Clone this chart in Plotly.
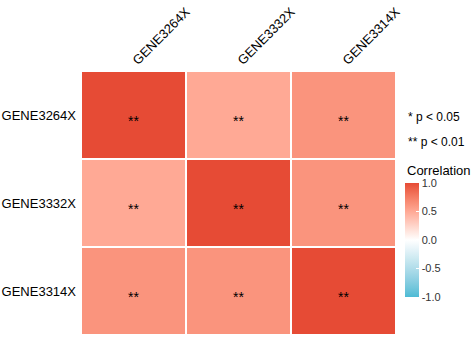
import plotly.graph_objects as go
import numpy as np

genes = ["GENE3264X", "GENE3332X", "GENE3314X"]
corr = [
    [1.00, 0.50, 0.62],
    [0.50, 1.00, 0.62],
    [0.62, 0.62, 1.00],
]
signif = [
    ["**", "**", "**"],
    ["**", "**", "**"],
    ["**", "**", "**"],
]
legend_notes = ["* p < 0.05", "** p < 0.01"]
cbar_title = "Correlation"
cbar_ticks = [-1.0, -0.5, 0.0, 0.5, 1.0]


def hex2rgb(h):
    h = h.lstrip("#")
    return [int(h[i:i + 2], 16) / 255 for i in (0, 2, 4)]


def srgb2lin(c):
    return np.where(c <= 0.04045, c / 12.92, ((c + 0.055) / 1.055) ** 2.4)


def lin2srgb(c):
    return np.where(c <= 0.0031308, 12.92 * c, 1.055 * np.power(np.clip(c, 0, None), 1 / 2.4) - 0.055)


M = np.array([[0.4124, 0.3576, 0.1805], [0.2126, 0.7152, 0.0722], [0.0193, 0.1192, 0.9505]])
Mi = np.linalg.inv(M)
wp = np.array([0.95047, 1.0, 1.08883])


def f(t):
    d = 6 / 29
    return np.where(t > d ** 3, np.cbrt(t), t / (3 * d * d) + 4 / 29)


def finv(t):
    d = 6 / 29
    return np.where(t > d, t ** 3, 3 * d * d * (t - 4 / 29))


def rgb2lab(rgb):
    xyz = M @ srgb2lin(np.array(rgb)) / wp
    fx, fy, fz = f(xyz)
    return np.array([116 * fy - 16, 500 * (fx - fy), 200 * (fy - fz)])


def lab2rgb(lab):
    L, a, b = lab
    fy = (L + 16) / 116
    fx = fy + a / 500
    fz = fy - b / 200
    xyz = finv(np.array([fx, fy, fz])) * wp
    rgb = lin2srgb(Mi @ xyz)
    return np.clip(rgb, 0, 1)


low = rgb2lab(hex2rgb("#4DBBD5"))
mid = rgb2lab([1, 1, 1])
high = rgb2lab(hex2rgb("#E64B35"))
scale = []
n = 10
for i in range(n + 1):
    t = i / n
    c = lab2rgb(low + (mid - low) * t)
    scale.append([t * 0.5, "rgb(%d,%d,%d)" % tuple((c * 255).round())])
for i in range(1, n + 1):
    t = i / n
    c = lab2rgb(mid + (high - mid) * t)
    scale.append([0.5 + t * 0.5, "rgb(%d,%d,%d)" % tuple((c * 255).round())])

fig = go.Figure(go.Heatmap(
    z=corr, x=genes, y=genes,
    zmin=-1, zmax=1, colorscale=scale, xgap=2, ygap=2,
    colorbar=dict(
        tickvals=cbar_ticks, ticktext=["%.1f" % v for v in cbar_ticks],
        ticks="inside", ticklen=3, tickcolor="white", tickwidth=1,
        tickfont=dict(size=11, color="#333"),
        lenmode="pixels", len=114, thickness=14, thicknessmode="pixels",
        x=1.029, xanchor="left", xpad=0, y=0.36, yanchor="middle", ypad=0,
        outlinewidth=0,
    ),
))

for i, row_gene in enumerate(genes):
    for j, col_gene in enumerate(genes):
        fig.add_annotation(x=col_gene, y=row_gene, text=signif[i][j], showarrow=False,
                           yshift=-6, font=dict(size=14, color="black"))

fig.update_layout(
    width=474, height=355,
    margin=dict(l=81, r=78, t=71, b=20, autoexpand=False),
    paper_bgcolor="white", plot_bgcolor="white",
    font=dict(family="Liberation Sans", size=12, color="black"),
    xaxis=dict(side="top", tickangle=-45, showgrid=False, zeroline=False, ticks="",
               automargin=False, tickfont=dict(size=13, color="black")),
    yaxis=dict(autorange="reversed", showgrid=False, zeroline=False, ticks="",
               automargin=False, ticklabelstandoff=4,
               tickfont=dict(size=13, color="black")),
)

fig.add_annotation(text=cbar_title, xref="paper", yref="paper", x=1.029, xanchor="left",
                   y=(335 - 170) / 264, yanchor="middle", showarrow=False,
                   font=dict(size=13, color="black"))
for i, note in enumerate(legend_notes):
    fig.add_annotation(text=note, xref="paper", yref="paper", x=(406 - 81) / 315, xanchor="left",
                       y=(335 - (117 + 25 * i)) / 264, yanchor="middle",
                       showarrow=False, font=dict(size=12, color="black"))

fig.write_html("out.html", config={"displayModeBar": False},
               post_script="document.body.style.margin='0';")
